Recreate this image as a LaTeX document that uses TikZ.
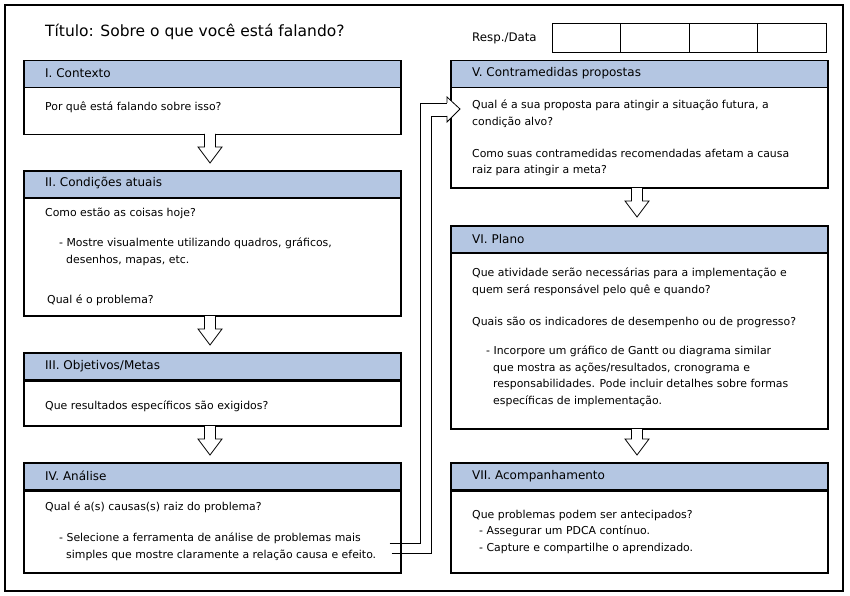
\documentclass[tikz,border=0pt]{standalone}
\usepackage{fontspec}
\setmainfont{DejaVu Sans}
\usetikzlibrary{positioning}
\definecolor{headblue}{HTML}{B4C6E2}
\tikzset{
  head/.style={draw,line width=1.5pt,fill=headblue,anchor=north west,minimum height=27pt,inner sep=0pt},
  body/.style={draw,line width=1.5pt,fill=white,anchor=north west,inner sep=0pt},
  txt/.style={anchor=north west,align=left,font=\fontsize{10.9}{16.5}\selectfont,inner sep=0pt},
  htxt/.style={anchor=west,font=\fontsize{12}{13}\selectfont,inner sep=0pt},
  hollow/.style={draw,line width=0.8pt,fill=white,line join=miter}
}
\newcommand\hollowdown[3]{% x, top, tip
  \draw[hollow] (#1-5.5,#2) -- (#1-5.5,#3-16) -- (#1-12,#3-16) -- (#1,#3) -- (#1+12,#3-16) -- (#1+5.5,#3-16) -- (#1+5.5,#2);
}
\begin{document}
\begin{tikzpicture}[x=1pt,y=-1pt]
\useasboundingbox (0,0) rectangle (850,596);
\draw[line width=1.2pt] (5,5) rectangle (843,591);
\node[anchor=west,font=\fontsize{15.5}{17}\selectfont,inner sep=0pt] (title) at (45,32) {Título: Sobre o que você está falando?};
\node[anchor=west,font=\fontsize{11.8}{13}\selectfont,inner sep=0pt] (resp) at (472,38) {Resp./Data};
\foreach \i in {0,1,2,3}
  \draw[line width=0.8pt] (552+68.5*\i,23) rectangle (620.5+68.5*\i,52);
% left column
\node[head,minimum width=377pt] (h1) at (23,60) {};
\node[htxt] at (45,73) {I. Contexto};
\node[body,minimum width=377pt,minimum height=47pt] (b1) at (23,87) {};
\node[txt] at (45,102) {Por quê está falando sobre isso?};
\node[head,minimum width=377pt] (h2) at (23,170) {};
\node[htxt] at (45,183) {II. Condições atuais};
\node[body,minimum width=377pt,minimum height=118pt] (b2) at (23,197) {};
\node[txt] at (45,208) {Como estão as coisas hoje?};
\node[txt] at (59,238) {- Mostre visualmente utilizando quadros, gráficos,\\\hspace{7pt}desenhos, mapas, etc.};
\node[txt] at (47,295) {Qual é o problema?};
\node[head,minimum width=377pt] (h3) at (23,352) {};
\node[htxt] at (45,366) {III. Objetivos/Metas};
\node[body,minimum width=377pt,minimum height=45pt] (b3) at (23,380) {};
\node[txt] at (45,401) {Que resultados específicos são exigidos?};
\node[head,minimum width=377pt] (h4) at (23,462) {};
\node[htxt] at (45,476) {IV. Análise};
\node[body,minimum width=377pt,minimum height=82pt] (b4) at (23,490) {};
\node[txt] at (45,502) {Qual é a(s) causas(s) raiz do problema?};
\node[txt] at (59,533) {- Selecione a ferramenta de análise de problemas mais\\\hspace{7pt}simples que mostre claramente a relação causa e efeito.};
% right column
\node[head,minimum width=377pt] (h5) at (450,60) {};
\node[htxt] at (472,73) {V. Contramedidas propostas};
\node[body,minimum width=377pt,minimum height=100pt] (b5) at (450,87) {};
\node[txt] at (472,100) {Qual é a sua proposta para atingir a situação futura, a\\condição alvo?};
\node[txt] at (472,149) {Como suas contramedidas recomendadas afetam a causa\\raiz para atingir a meta?};
\node[head,minimum width=377pt] (h6) at (450,225) {};
\node[htxt] at (472,239) {VI. Plano};
\node[body,minimum width=377pt,minimum height=176pt] (b6) at (450,252) {};
\node[txt] at (472,268) {Que atividade serão necessárias para a implementação e\\quem será responsável pelo quê e quando?};
\node[txt] at (472,317) {Quais são os indicadores de desempenho ou de progresso?};
\node[txt] at (486,346) {- Incorpore um gráfico de Gantt ou diagrama similar\\\hspace{7pt}que mostra as ações/resultados, cronograma e\\\hspace{7pt}responsabilidades. Pode incluir detalhes sobre formas\\\hspace{7pt}específicas de implementação.};
\node[head,minimum width=377pt] (h7) at (450,462) {};
\node[htxt] at (472,476) {VII. Acompanhamento};
\node[body,minimum width=377pt,minimum height=82pt] (b7) at (450,490) {};
\node[txt] at (472,510) {Que problemas podem ser antecipados?\\\hspace{7pt}- Assegurar um PDCA contínuo.\\\hspace{7pt}- Capture e compartilhe o aprendizado.};
% arrows down
\hollowdown{210}{134}{163}
\hollowdown{210}{316}{345}
\hollowdown{210}{426}{455}
\hollowdown{637}{188}{217}
\hollowdown{637}{429}{455}
% connector IV -> V
\coordinate (c1) at (b4.east |- 0,543);
\coordinate (c2) at (b4.east |- 0,553);
\coordinate (c3) at (b5.west |- 0,109);
\draw[line width=0.8pt] ([xshift=-12pt]c1) -- (420,543) -- (420,103) -- (447,103);
\draw[line width=0.8pt] ([xshift=-10pt]c2) -- (431,553) -- (431,116) -- (447,116);
\draw[hollow] (447,103) -- (447,97) -- ([xshift=10pt]c3) -- (447,122) -- (447,116);
\end{tikzpicture}
\end{document}
